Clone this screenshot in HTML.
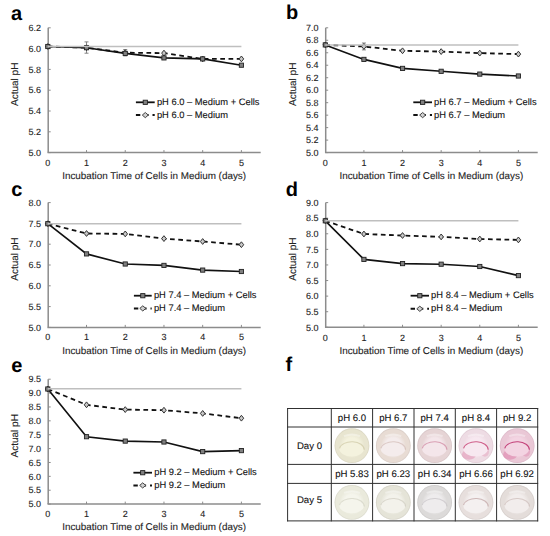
<!DOCTYPE html>
<html><head><meta charset="utf-8"><style>
html,body{margin:0;padding:0;background:#fff;width:550px;height:536px;overflow:hidden}
svg{display:block;text-rendering:geometricPrecision}
</style></head><body>
<svg width="550" height="536" viewBox="0 0 550 536" font-family='"Liberation Sans", sans-serif'><defs><filter id="soft" x="-10%" y="-10%" width="120%" height="120%"><feGaussianBlur stdDeviation="0.6"/></filter><radialGradient id="g0" cx="50%" cy="50%" r="50%"><stop offset="0%" stop-color="#f4f2de"/><stop offset="45%" stop-color="#f4f2de"/><stop offset="72%" stop-color="#e8e5d0"/><stop offset="92%" stop-color="#e8e5d0"/><stop offset="100%" stop-color="#d8d4c0"/></radialGradient><radialGradient id="g10" cx="50%" cy="50%" r="50%"><stop offset="0%" stop-color="#f5f5ec"/><stop offset="45%" stop-color="#f5f5ec"/><stop offset="72%" stop-color="#eaeadc"/><stop offset="92%" stop-color="#eaeadc"/><stop offset="100%" stop-color="#d8d8ca"/></radialGradient><radialGradient id="g1" cx="50%" cy="50%" r="50%"><stop offset="0%" stop-color="#f4ecec"/><stop offset="45%" stop-color="#f4ecec"/><stop offset="72%" stop-color="#e8dcd4"/><stop offset="92%" stop-color="#e8dcd4"/><stop offset="100%" stop-color="#d6cac4"/></radialGradient><radialGradient id="g11" cx="50%" cy="50%" r="50%"><stop offset="0%" stop-color="#f3f2eb"/><stop offset="45%" stop-color="#f3f2eb"/><stop offset="72%" stop-color="#e5e4d8"/><stop offset="92%" stop-color="#e5e4d8"/><stop offset="100%" stop-color="#d2d0c4"/></radialGradient><radialGradient id="g2" cx="50%" cy="50%" r="50%"><stop offset="0%" stop-color="#f4e6ea"/><stop offset="45%" stop-color="#f4e6ea"/><stop offset="72%" stop-color="#e6d4d5"/><stop offset="92%" stop-color="#e6d4d5"/><stop offset="100%" stop-color="#d4c2c4"/></radialGradient><radialGradient id="g12" cx="50%" cy="50%" r="50%"><stop offset="0%" stop-color="#eeeced"/><stop offset="45%" stop-color="#eeeced"/><stop offset="72%" stop-color="#dcdad9"/><stop offset="92%" stop-color="#dcdad9"/><stop offset="100%" stop-color="#cac8c7"/></radialGradient><radialGradient id="g3" cx="50%" cy="50%" r="50%"><stop offset="0%" stop-color="#f7e8f0"/><stop offset="45%" stop-color="#f7e8f0"/><stop offset="72%" stop-color="#eedce4"/><stop offset="92%" stop-color="#eedce4"/><stop offset="100%" stop-color="#dec8d2"/></radialGradient><radialGradient id="g13" cx="50%" cy="50%" r="50%"><stop offset="0%" stop-color="#f4f0f0"/><stop offset="45%" stop-color="#f4f0f0"/><stop offset="72%" stop-color="#e7dfdd"/><stop offset="92%" stop-color="#e7dfdd"/><stop offset="100%" stop-color="#d4ccca"/></radialGradient><radialGradient id="g4" cx="50%" cy="50%" r="50%"><stop offset="0%" stop-color="#f3d4e2"/><stop offset="45%" stop-color="#f3d4e2"/><stop offset="72%" stop-color="#eac8d6"/><stop offset="92%" stop-color="#eac8d6"/><stop offset="100%" stop-color="#dab6c6"/></radialGradient><radialGradient id="g14" cx="50%" cy="50%" r="50%"><stop offset="0%" stop-color="#f2edec"/><stop offset="45%" stop-color="#f2edec"/><stop offset="72%" stop-color="#e4ddda"/><stop offset="92%" stop-color="#e4ddda"/><stop offset="100%" stop-color="#d1c9c6"/></radialGradient></defs><text x="11.00" y="19.50" font-size="20" text-anchor="start" font-weight="bold" fill="#000" >a</text>
<line x1="48.20" y1="27.80" x2="48.20" y2="152.60" stroke="#8c8c8c" stroke-width="1.5"/>
<line x1="47.45" y1="152.60" x2="260.70" y2="152.60" stroke="#8c8c8c" stroke-width="1.5"/>
<line x1="48.20" y1="152.60" x2="50.70" y2="152.60" stroke="#8c8c8c" stroke-width="1"/>
<text x="40.90" y="155.80" font-size="9" text-anchor="end" font-weight="normal" fill="#222" stroke="#222" stroke-width="0.1" >5.0</text>
<line x1="48.20" y1="131.80" x2="50.70" y2="131.80" stroke="#8c8c8c" stroke-width="1"/>
<text x="40.90" y="135.00" font-size="9" text-anchor="end" font-weight="normal" fill="#222" stroke="#222" stroke-width="0.1" >5.2</text>
<line x1="48.20" y1="111.00" x2="50.70" y2="111.00" stroke="#8c8c8c" stroke-width="1"/>
<text x="40.90" y="114.20" font-size="9" text-anchor="end" font-weight="normal" fill="#222" stroke="#222" stroke-width="0.1" >5.4</text>
<line x1="48.20" y1="90.20" x2="50.70" y2="90.20" stroke="#8c8c8c" stroke-width="1"/>
<text x="40.90" y="93.40" font-size="9" text-anchor="end" font-weight="normal" fill="#222" stroke="#222" stroke-width="0.1" >5.6</text>
<line x1="48.20" y1="69.40" x2="50.70" y2="69.40" stroke="#8c8c8c" stroke-width="1"/>
<text x="40.90" y="72.60" font-size="9" text-anchor="end" font-weight="normal" fill="#222" stroke="#222" stroke-width="0.1" >5.8</text>
<line x1="48.20" y1="48.60" x2="50.70" y2="48.60" stroke="#8c8c8c" stroke-width="1"/>
<text x="40.90" y="51.80" font-size="9" text-anchor="end" font-weight="normal" fill="#222" stroke="#222" stroke-width="0.1" >6.0</text>
<line x1="48.20" y1="27.80" x2="50.70" y2="27.80" stroke="#8c8c8c" stroke-width="1"/>
<text x="40.90" y="31.00" font-size="9" text-anchor="end" font-weight="normal" fill="#222" stroke="#222" stroke-width="0.1" >6.2</text>
<text x="47.80" y="166.10" font-size="9" text-anchor="middle" font-weight="normal" fill="#222" stroke="#222" stroke-width="0.1" >0</text>
<line x1="86.52" y1="152.60" x2="86.52" y2="150.10" stroke="#8c8c8c" stroke-width="1"/>
<text x="86.52" y="166.10" font-size="9" text-anchor="middle" font-weight="normal" fill="#222" stroke="#222" stroke-width="0.1" >1</text>
<line x1="125.24" y1="152.60" x2="125.24" y2="150.10" stroke="#8c8c8c" stroke-width="1"/>
<text x="125.24" y="166.10" font-size="9" text-anchor="middle" font-weight="normal" fill="#222" stroke="#222" stroke-width="0.1" >2</text>
<line x1="163.96" y1="152.60" x2="163.96" y2="150.10" stroke="#8c8c8c" stroke-width="1"/>
<text x="163.96" y="166.10" font-size="9" text-anchor="middle" font-weight="normal" fill="#222" stroke="#222" stroke-width="0.1" >3</text>
<line x1="202.68" y1="152.60" x2="202.68" y2="150.10" stroke="#8c8c8c" stroke-width="1"/>
<text x="202.68" y="166.10" font-size="9" text-anchor="middle" font-weight="normal" fill="#222" stroke="#222" stroke-width="0.1" >4</text>
<line x1="241.40" y1="152.60" x2="241.40" y2="150.10" stroke="#8c8c8c" stroke-width="1"/>
<text x="241.40" y="166.10" font-size="9" text-anchor="middle" font-weight="normal" fill="#222" stroke="#222" stroke-width="0.1" >5</text>
<text x="62.20" y="179.40" font-size="9.9" text-anchor="start" font-weight="normal" fill="#222" stroke="#222" stroke-width="0.1" >Incubation Time of Cells in Medium (days)</text>
<text x="18.10" y="84.30" font-size="10" text-anchor="middle" font-weight="normal" fill="#222" stroke="#222" stroke-width="0.1" transform="rotate(-90 18.10 84.30)">Actual pH</text>
<path d="M84.52 41.90H88.52M86.52 41.90V53.20M84.52 53.20H88.52" stroke="#777" stroke-width="0.9" fill="none"/>
<path d="M123.24 49.50H127.24M125.24 49.50V55.90M123.24 55.90H127.24" stroke="#777" stroke-width="0.9" fill="none"/>
<polyline points="47.80,46.50 86.52,47.70 125.24,52.70 163.96,53.10 202.68,58.90 241.40,58.90" fill="none" stroke="#111" stroke-width="1.8" stroke-dasharray="4.7 3.55"/>
<polyline points="47.80,46.50 86.52,47.70 125.24,53.40 163.96,57.90 202.68,58.90 241.40,65.20" fill="none" stroke="#111" stroke-width="1.65"/>
<path d="M47.80 43.60L50.10 46.50L47.80 49.40L45.50 46.50Z" fill="#c8c8c8" stroke="#333" stroke-width="1"/>
<path d="M86.52 44.80L88.82 47.70L86.52 50.60L84.22 47.70Z" fill="#c8c8c8" stroke="#333" stroke-width="1"/>
<path d="M125.24 49.80L127.54 52.70L125.24 55.60L122.94 52.70Z" fill="#c8c8c8" stroke="#333" stroke-width="1"/>
<path d="M163.96 50.20L166.26 53.10L163.96 56.00L161.66 53.10Z" fill="#c8c8c8" stroke="#333" stroke-width="1"/>
<path d="M202.68 56.00L204.98 58.90L202.68 61.80L200.38 58.90Z" fill="#c8c8c8" stroke="#333" stroke-width="1"/>
<path d="M241.40 56.00L243.70 58.90L241.40 61.80L239.10 58.90Z" fill="#c8c8c8" stroke="#333" stroke-width="1"/>
<rect x="45.70" y="44.40" width="4.2" height="4.2" fill="#808080" stroke="#222" stroke-width="0.9"/>
<rect x="84.42" y="45.60" width="4.2" height="4.2" fill="#808080" stroke="#222" stroke-width="0.9"/>
<rect x="123.14" y="51.30" width="4.2" height="4.2" fill="#808080" stroke="#222" stroke-width="0.9"/>
<rect x="161.86" y="55.80" width="4.2" height="4.2" fill="#808080" stroke="#222" stroke-width="0.9"/>
<rect x="200.58" y="56.80" width="4.2" height="4.2" fill="#808080" stroke="#222" stroke-width="0.9"/>
<rect x="239.30" y="63.10" width="4.2" height="4.2" fill="#808080" stroke="#222" stroke-width="0.9"/>
<line x1="47.80" y1="46.50" x2="241.40" y2="46.50" stroke="#bfbfbf" stroke-width="1.5"/>
<line x1="135.90" y1="102.30" x2="154.70" y2="102.30" stroke="#111" stroke-width="1.8"/>
<rect x="143.20" y="100.20" width="4.2" height="4.2" fill="#808080" stroke="#222" stroke-width="0.9"/>
<line x1="135.90" y1="115.10" x2="154.70" y2="115.10" stroke="#111" stroke-width="2" stroke-dasharray="4.4 3.9"/>
<path d="M145.30 112.50L148.30 115.10L145.30 117.70L142.30 115.10Z" fill="#d0d0d0" stroke="#444" stroke-width="1"/>
<text x="156.90" y="104.90" font-size="9.35" text-anchor="start" font-weight="normal" fill="#111" stroke="#111" stroke-width="0.1" >pH 6.0 – Medium + Cells</text>
<text x="156.90" y="117.70" font-size="9.35" text-anchor="start" font-weight="normal" fill="#111" stroke="#111" stroke-width="0.1" >pH 6.0 – Medium</text>
<text x="286.00" y="18.90" font-size="20" text-anchor="start" font-weight="bold" fill="#000" >b</text>
<line x1="325.70" y1="27.80" x2="325.70" y2="152.60" stroke="#8c8c8c" stroke-width="1.5"/>
<line x1="324.95" y1="152.60" x2="537.70" y2="152.60" stroke="#8c8c8c" stroke-width="1.5"/>
<line x1="325.70" y1="152.60" x2="328.20" y2="152.60" stroke="#8c8c8c" stroke-width="1"/>
<text x="318.40" y="155.80" font-size="9" text-anchor="end" font-weight="normal" fill="#222" stroke="#222" stroke-width="0.1" >5.0</text>
<line x1="325.70" y1="140.12" x2="328.20" y2="140.12" stroke="#8c8c8c" stroke-width="1"/>
<text x="318.40" y="143.32" font-size="9" text-anchor="end" font-weight="normal" fill="#222" stroke="#222" stroke-width="0.1" >5.2</text>
<line x1="325.70" y1="127.64" x2="328.20" y2="127.64" stroke="#8c8c8c" stroke-width="1"/>
<text x="318.40" y="130.84" font-size="9" text-anchor="end" font-weight="normal" fill="#222" stroke="#222" stroke-width="0.1" >5.4</text>
<line x1="325.70" y1="115.16" x2="328.20" y2="115.16" stroke="#8c8c8c" stroke-width="1"/>
<text x="318.40" y="118.36" font-size="9" text-anchor="end" font-weight="normal" fill="#222" stroke="#222" stroke-width="0.1" >5.6</text>
<line x1="325.70" y1="102.68" x2="328.20" y2="102.68" stroke="#8c8c8c" stroke-width="1"/>
<text x="318.40" y="105.88" font-size="9" text-anchor="end" font-weight="normal" fill="#222" stroke="#222" stroke-width="0.1" >5.8</text>
<line x1="325.70" y1="90.20" x2="328.20" y2="90.20" stroke="#8c8c8c" stroke-width="1"/>
<text x="318.40" y="93.40" font-size="9" text-anchor="end" font-weight="normal" fill="#222" stroke="#222" stroke-width="0.1" >6.0</text>
<line x1="325.70" y1="77.72" x2="328.20" y2="77.72" stroke="#8c8c8c" stroke-width="1"/>
<text x="318.40" y="80.92" font-size="9" text-anchor="end" font-weight="normal" fill="#222" stroke="#222" stroke-width="0.1" >6.2</text>
<line x1="325.70" y1="65.24" x2="328.20" y2="65.24" stroke="#8c8c8c" stroke-width="1"/>
<text x="318.40" y="68.44" font-size="9" text-anchor="end" font-weight="normal" fill="#222" stroke="#222" stroke-width="0.1" >6.4</text>
<line x1="325.70" y1="52.76" x2="328.20" y2="52.76" stroke="#8c8c8c" stroke-width="1"/>
<text x="318.40" y="55.96" font-size="9" text-anchor="end" font-weight="normal" fill="#222" stroke="#222" stroke-width="0.1" >6.6</text>
<line x1="325.70" y1="40.28" x2="328.20" y2="40.28" stroke="#8c8c8c" stroke-width="1"/>
<text x="318.40" y="43.48" font-size="9" text-anchor="end" font-weight="normal" fill="#222" stroke="#222" stroke-width="0.1" >6.8</text>
<line x1="325.70" y1="27.80" x2="328.20" y2="27.80" stroke="#8c8c8c" stroke-width="1"/>
<text x="318.40" y="31.00" font-size="9" text-anchor="end" font-weight="normal" fill="#222" stroke="#222" stroke-width="0.1" >7.0</text>
<text x="325.30" y="166.10" font-size="9" text-anchor="middle" font-weight="normal" fill="#222" stroke="#222" stroke-width="0.1" >0</text>
<line x1="363.92" y1="152.60" x2="363.92" y2="150.10" stroke="#8c8c8c" stroke-width="1"/>
<text x="363.92" y="166.10" font-size="9" text-anchor="middle" font-weight="normal" fill="#222" stroke="#222" stroke-width="0.1" >1</text>
<line x1="402.54" y1="152.60" x2="402.54" y2="150.10" stroke="#8c8c8c" stroke-width="1"/>
<text x="402.54" y="166.10" font-size="9" text-anchor="middle" font-weight="normal" fill="#222" stroke="#222" stroke-width="0.1" >2</text>
<line x1="441.16" y1="152.60" x2="441.16" y2="150.10" stroke="#8c8c8c" stroke-width="1"/>
<text x="441.16" y="166.10" font-size="9" text-anchor="middle" font-weight="normal" fill="#222" stroke="#222" stroke-width="0.1" >3</text>
<line x1="479.78" y1="152.60" x2="479.78" y2="150.10" stroke="#8c8c8c" stroke-width="1"/>
<text x="479.78" y="166.10" font-size="9" text-anchor="middle" font-weight="normal" fill="#222" stroke="#222" stroke-width="0.1" >4</text>
<line x1="518.40" y1="152.60" x2="518.40" y2="150.10" stroke="#8c8c8c" stroke-width="1"/>
<text x="518.40" y="166.10" font-size="9" text-anchor="middle" font-weight="normal" fill="#222" stroke="#222" stroke-width="0.1" >5</text>
<text x="339.40" y="179.40" font-size="9.9" text-anchor="start" font-weight="normal" fill="#222" stroke="#222" stroke-width="0.1" >Incubation Time of Cells in Medium (days)</text>
<text x="295.60" y="84.30" font-size="10" text-anchor="middle" font-weight="normal" fill="#222" stroke="#222" stroke-width="0.1" transform="rotate(-90 295.60 84.30)">Actual pH</text>
<path d="M361.92 43.00H365.92M363.92 43.00V49.90M361.92 49.90H365.92" stroke="#777" stroke-width="0.9" fill="none"/>
<polyline points="325.30,44.90 363.92,46.50 402.54,50.80 441.16,51.60 479.78,53.10 518.40,54.10" fill="none" stroke="#111" stroke-width="1.8" stroke-dasharray="4.7 3.55"/>
<polyline points="325.30,44.90 363.92,59.40 402.54,68.40 441.16,71.30 479.78,74.10 518.40,76.00" fill="none" stroke="#111" stroke-width="1.65"/>
<path d="M325.30 42.00L327.60 44.90L325.30 47.80L323.00 44.90Z" fill="#c8c8c8" stroke="#333" stroke-width="1"/>
<path d="M363.92 43.60L366.22 46.50L363.92 49.40L361.62 46.50Z" fill="#c8c8c8" stroke="#333" stroke-width="1"/>
<path d="M402.54 47.90L404.84 50.80L402.54 53.70L400.24 50.80Z" fill="#c8c8c8" stroke="#333" stroke-width="1"/>
<path d="M441.16 48.70L443.46 51.60L441.16 54.50L438.86 51.60Z" fill="#c8c8c8" stroke="#333" stroke-width="1"/>
<path d="M479.78 50.20L482.08 53.10L479.78 56.00L477.48 53.10Z" fill="#c8c8c8" stroke="#333" stroke-width="1"/>
<path d="M518.40 51.20L520.70 54.10L518.40 57.00L516.10 54.10Z" fill="#c8c8c8" stroke="#333" stroke-width="1"/>
<rect x="323.20" y="42.80" width="4.2" height="4.2" fill="#808080" stroke="#222" stroke-width="0.9"/>
<rect x="361.82" y="57.30" width="4.2" height="4.2" fill="#808080" stroke="#222" stroke-width="0.9"/>
<rect x="400.44" y="66.30" width="4.2" height="4.2" fill="#808080" stroke="#222" stroke-width="0.9"/>
<rect x="439.06" y="69.20" width="4.2" height="4.2" fill="#808080" stroke="#222" stroke-width="0.9"/>
<rect x="477.68" y="72.00" width="4.2" height="4.2" fill="#808080" stroke="#222" stroke-width="0.9"/>
<rect x="516.30" y="73.90" width="4.2" height="4.2" fill="#808080" stroke="#222" stroke-width="0.9"/>
<line x1="325.30" y1="44.90" x2="518.40" y2="44.90" stroke="#bfbfbf" stroke-width="1.5"/>
<line x1="413.30" y1="102.30" x2="432.00" y2="102.30" stroke="#111" stroke-width="1.8"/>
<rect x="420.55" y="100.20" width="4.2" height="4.2" fill="#808080" stroke="#222" stroke-width="0.9"/>
<line x1="413.30" y1="115.10" x2="432.00" y2="115.10" stroke="#111" stroke-width="2" stroke-dasharray="4.4 3.9"/>
<path d="M422.65 112.50L425.65 115.10L422.65 117.70L419.65 115.10Z" fill="#d0d0d0" stroke="#444" stroke-width="1"/>
<text x="434.00" y="104.90" font-size="9.35" text-anchor="start" font-weight="normal" fill="#111" stroke="#111" stroke-width="0.1" >pH 6.7 – Medium + Cells</text>
<text x="434.00" y="117.70" font-size="9.35" text-anchor="start" font-weight="normal" fill="#111" stroke="#111" stroke-width="0.1" >pH 6.7 – Medium</text>
<text x="11.20" y="196.00" font-size="20" text-anchor="start" font-weight="bold" fill="#000" >c</text>
<line x1="48.20" y1="202.60" x2="48.20" y2="327.40" stroke="#8c8c8c" stroke-width="1.5"/>
<line x1="47.45" y1="327.40" x2="260.70" y2="327.40" stroke="#8c8c8c" stroke-width="1.5"/>
<line x1="48.20" y1="327.40" x2="50.70" y2="327.40" stroke="#8c8c8c" stroke-width="1"/>
<text x="40.90" y="330.60" font-size="9" text-anchor="end" font-weight="normal" fill="#222" stroke="#222" stroke-width="0.1" >5.0</text>
<line x1="48.20" y1="306.60" x2="50.70" y2="306.60" stroke="#8c8c8c" stroke-width="1"/>
<text x="40.90" y="309.80" font-size="9" text-anchor="end" font-weight="normal" fill="#222" stroke="#222" stroke-width="0.1" >5.5</text>
<line x1="48.20" y1="285.80" x2="50.70" y2="285.80" stroke="#8c8c8c" stroke-width="1"/>
<text x="40.90" y="289.00" font-size="9" text-anchor="end" font-weight="normal" fill="#222" stroke="#222" stroke-width="0.1" >6.0</text>
<line x1="48.20" y1="265.00" x2="50.70" y2="265.00" stroke="#8c8c8c" stroke-width="1"/>
<text x="40.90" y="268.20" font-size="9" text-anchor="end" font-weight="normal" fill="#222" stroke="#222" stroke-width="0.1" >6.5</text>
<line x1="48.20" y1="244.20" x2="50.70" y2="244.20" stroke="#8c8c8c" stroke-width="1"/>
<text x="40.90" y="247.40" font-size="9" text-anchor="end" font-weight="normal" fill="#222" stroke="#222" stroke-width="0.1" >7.0</text>
<line x1="48.20" y1="223.40" x2="50.70" y2="223.40" stroke="#8c8c8c" stroke-width="1"/>
<text x="40.90" y="226.60" font-size="9" text-anchor="end" font-weight="normal" fill="#222" stroke="#222" stroke-width="0.1" >7.5</text>
<line x1="48.20" y1="202.60" x2="50.70" y2="202.60" stroke="#8c8c8c" stroke-width="1"/>
<text x="40.90" y="205.80" font-size="9" text-anchor="end" font-weight="normal" fill="#222" stroke="#222" stroke-width="0.1" >8.0</text>
<text x="47.80" y="340.20" font-size="9" text-anchor="middle" font-weight="normal" fill="#222" stroke="#222" stroke-width="0.1" >0</text>
<line x1="86.52" y1="327.40" x2="86.52" y2="324.90" stroke="#8c8c8c" stroke-width="1"/>
<text x="86.52" y="340.20" font-size="9" text-anchor="middle" font-weight="normal" fill="#222" stroke="#222" stroke-width="0.1" >1</text>
<line x1="125.24" y1="327.40" x2="125.24" y2="324.90" stroke="#8c8c8c" stroke-width="1"/>
<text x="125.24" y="340.20" font-size="9" text-anchor="middle" font-weight="normal" fill="#222" stroke="#222" stroke-width="0.1" >2</text>
<line x1="163.96" y1="327.40" x2="163.96" y2="324.90" stroke="#8c8c8c" stroke-width="1"/>
<text x="163.96" y="340.20" font-size="9" text-anchor="middle" font-weight="normal" fill="#222" stroke="#222" stroke-width="0.1" >3</text>
<line x1="202.68" y1="327.40" x2="202.68" y2="324.90" stroke="#8c8c8c" stroke-width="1"/>
<text x="202.68" y="340.20" font-size="9" text-anchor="middle" font-weight="normal" fill="#222" stroke="#222" stroke-width="0.1" >4</text>
<line x1="241.40" y1="327.40" x2="241.40" y2="324.90" stroke="#8c8c8c" stroke-width="1"/>
<text x="241.40" y="340.20" font-size="9" text-anchor="middle" font-weight="normal" fill="#222" stroke="#222" stroke-width="0.1" >5</text>
<text x="62.20" y="353.50" font-size="9.9" text-anchor="start" font-weight="normal" fill="#222" stroke="#222" stroke-width="0.1" >Incubation Time of Cells in Medium (days)</text>
<text x="18.10" y="259.10" font-size="10" text-anchor="middle" font-weight="normal" fill="#222" stroke="#222" stroke-width="0.1" transform="rotate(-90 18.10 259.10)">Actual pH</text>
<polyline points="47.80,223.70 86.52,233.50 125.24,233.90 163.96,238.60 202.68,241.50 241.40,244.70" fill="none" stroke="#111" stroke-width="1.8" stroke-dasharray="4.7 3.55"/>
<polyline points="47.80,223.70 86.52,253.90 125.24,264.00 163.96,265.40 202.68,270.10 241.40,271.50" fill="none" stroke="#111" stroke-width="1.65"/>
<path d="M47.80 220.80L50.10 223.70L47.80 226.60L45.50 223.70Z" fill="#c8c8c8" stroke="#333" stroke-width="1"/>
<path d="M86.52 230.60L88.82 233.50L86.52 236.40L84.22 233.50Z" fill="#c8c8c8" stroke="#333" stroke-width="1"/>
<path d="M125.24 231.00L127.54 233.90L125.24 236.80L122.94 233.90Z" fill="#c8c8c8" stroke="#333" stroke-width="1"/>
<path d="M163.96 235.70L166.26 238.60L163.96 241.50L161.66 238.60Z" fill="#c8c8c8" stroke="#333" stroke-width="1"/>
<path d="M202.68 238.60L204.98 241.50L202.68 244.40L200.38 241.50Z" fill="#c8c8c8" stroke="#333" stroke-width="1"/>
<path d="M241.40 241.80L243.70 244.70L241.40 247.60L239.10 244.70Z" fill="#c8c8c8" stroke="#333" stroke-width="1"/>
<rect x="45.70" y="221.60" width="4.2" height="4.2" fill="#808080" stroke="#222" stroke-width="0.9"/>
<rect x="84.42" y="251.80" width="4.2" height="4.2" fill="#808080" stroke="#222" stroke-width="0.9"/>
<rect x="123.14" y="261.90" width="4.2" height="4.2" fill="#808080" stroke="#222" stroke-width="0.9"/>
<rect x="161.86" y="263.30" width="4.2" height="4.2" fill="#808080" stroke="#222" stroke-width="0.9"/>
<rect x="200.58" y="268.00" width="4.2" height="4.2" fill="#808080" stroke="#222" stroke-width="0.9"/>
<rect x="239.30" y="269.40" width="4.2" height="4.2" fill="#808080" stroke="#222" stroke-width="0.9"/>
<line x1="47.80" y1="223.70" x2="241.40" y2="223.70" stroke="#bfbfbf" stroke-width="1.5"/>
<line x1="133.90" y1="295.70" x2="151.70" y2="295.70" stroke="#111" stroke-width="1.8"/>
<rect x="140.70" y="293.60" width="4.2" height="4.2" fill="#808080" stroke="#222" stroke-width="0.9"/>
<line x1="133.90" y1="308.40" x2="151.70" y2="308.40" stroke="#111" stroke-width="2" stroke-dasharray="4.4 3.9"/>
<path d="M142.80 305.80L145.80 308.40L142.80 311.00L139.80 308.40Z" fill="#d0d0d0" stroke="#444" stroke-width="1"/>
<text x="153.90" y="298.30" font-size="9.35" text-anchor="start" font-weight="normal" fill="#111" stroke="#111" stroke-width="0.1" >pH 7.4 – Medium + Cells</text>
<text x="153.90" y="311.00" font-size="9.35" text-anchor="start" font-weight="normal" fill="#111" stroke="#111" stroke-width="0.1" >pH 7.4 – Medium</text>
<text x="285.80" y="195.80" font-size="20" text-anchor="start" font-weight="bold" fill="#000" >d</text>
<line x1="325.70" y1="202.60" x2="325.70" y2="327.30" stroke="#8c8c8c" stroke-width="1.5"/>
<line x1="324.95" y1="327.30" x2="537.70" y2="327.30" stroke="#8c8c8c" stroke-width="1.5"/>
<line x1="325.70" y1="327.30" x2="328.20" y2="327.30" stroke="#8c8c8c" stroke-width="1"/>
<text x="318.40" y="330.50" font-size="9" text-anchor="end" font-weight="normal" fill="#222" stroke="#222" stroke-width="0.1" >5.0</text>
<line x1="325.70" y1="311.71" x2="328.20" y2="311.71" stroke="#8c8c8c" stroke-width="1"/>
<text x="318.40" y="314.91" font-size="9" text-anchor="end" font-weight="normal" fill="#222" stroke="#222" stroke-width="0.1" >5.5</text>
<line x1="325.70" y1="296.12" x2="328.20" y2="296.12" stroke="#8c8c8c" stroke-width="1"/>
<text x="318.40" y="299.32" font-size="9" text-anchor="end" font-weight="normal" fill="#222" stroke="#222" stroke-width="0.1" >6.0</text>
<line x1="325.70" y1="280.54" x2="328.20" y2="280.54" stroke="#8c8c8c" stroke-width="1"/>
<text x="318.40" y="283.74" font-size="9" text-anchor="end" font-weight="normal" fill="#222" stroke="#222" stroke-width="0.1" >6.5</text>
<line x1="325.70" y1="264.95" x2="328.20" y2="264.95" stroke="#8c8c8c" stroke-width="1"/>
<text x="318.40" y="268.15" font-size="9" text-anchor="end" font-weight="normal" fill="#222" stroke="#222" stroke-width="0.1" >7.0</text>
<line x1="325.70" y1="249.36" x2="328.20" y2="249.36" stroke="#8c8c8c" stroke-width="1"/>
<text x="318.40" y="252.56" font-size="9" text-anchor="end" font-weight="normal" fill="#222" stroke="#222" stroke-width="0.1" >7.5</text>
<line x1="325.70" y1="233.78" x2="328.20" y2="233.78" stroke="#8c8c8c" stroke-width="1"/>
<text x="318.40" y="236.97" font-size="9" text-anchor="end" font-weight="normal" fill="#222" stroke="#222" stroke-width="0.1" >8.0</text>
<line x1="325.70" y1="218.19" x2="328.20" y2="218.19" stroke="#8c8c8c" stroke-width="1"/>
<text x="318.40" y="221.39" font-size="9" text-anchor="end" font-weight="normal" fill="#222" stroke="#222" stroke-width="0.1" >8.5</text>
<line x1="325.70" y1="202.60" x2="328.20" y2="202.60" stroke="#8c8c8c" stroke-width="1"/>
<text x="318.40" y="205.80" font-size="9" text-anchor="end" font-weight="normal" fill="#222" stroke="#222" stroke-width="0.1" >9.0</text>
<text x="325.30" y="340.50" font-size="9" text-anchor="middle" font-weight="normal" fill="#222" stroke="#222" stroke-width="0.1" >0</text>
<line x1="363.92" y1="327.30" x2="363.92" y2="324.80" stroke="#8c8c8c" stroke-width="1"/>
<text x="363.92" y="340.50" font-size="9" text-anchor="middle" font-weight="normal" fill="#222" stroke="#222" stroke-width="0.1" >1</text>
<line x1="402.54" y1="327.30" x2="402.54" y2="324.80" stroke="#8c8c8c" stroke-width="1"/>
<text x="402.54" y="340.50" font-size="9" text-anchor="middle" font-weight="normal" fill="#222" stroke="#222" stroke-width="0.1" >2</text>
<line x1="441.16" y1="327.30" x2="441.16" y2="324.80" stroke="#8c8c8c" stroke-width="1"/>
<text x="441.16" y="340.50" font-size="9" text-anchor="middle" font-weight="normal" fill="#222" stroke="#222" stroke-width="0.1" >3</text>
<line x1="479.78" y1="327.30" x2="479.78" y2="324.80" stroke="#8c8c8c" stroke-width="1"/>
<text x="479.78" y="340.50" font-size="9" text-anchor="middle" font-weight="normal" fill="#222" stroke="#222" stroke-width="0.1" >4</text>
<line x1="518.40" y1="327.30" x2="518.40" y2="324.80" stroke="#8c8c8c" stroke-width="1"/>
<text x="518.40" y="340.50" font-size="9" text-anchor="middle" font-weight="normal" fill="#222" stroke="#222" stroke-width="0.1" >5</text>
<text x="339.40" y="353.80" font-size="9.9" text-anchor="start" font-weight="normal" fill="#222" stroke="#222" stroke-width="0.1" >Incubation Time of Cells in Medium (days)</text>
<text x="295.60" y="259.10" font-size="10" text-anchor="middle" font-weight="normal" fill="#222" stroke="#222" stroke-width="0.1" transform="rotate(-90 295.60 259.10)">Actual pH</text>
<polyline points="325.30,220.80 363.92,234.00 402.54,235.50 441.16,236.90 479.78,239.00 518.40,239.90" fill="none" stroke="#111" stroke-width="1.8" stroke-dasharray="4.7 3.55"/>
<polyline points="325.30,220.80 363.92,259.40 402.54,263.60 441.16,264.20 479.78,266.50 518.40,275.60" fill="none" stroke="#111" stroke-width="1.65"/>
<path d="M325.30 217.90L327.60 220.80L325.30 223.70L323.00 220.80Z" fill="#c8c8c8" stroke="#333" stroke-width="1"/>
<path d="M363.92 231.10L366.22 234.00L363.92 236.90L361.62 234.00Z" fill="#c8c8c8" stroke="#333" stroke-width="1"/>
<path d="M402.54 232.60L404.84 235.50L402.54 238.40L400.24 235.50Z" fill="#c8c8c8" stroke="#333" stroke-width="1"/>
<path d="M441.16 234.00L443.46 236.90L441.16 239.80L438.86 236.90Z" fill="#c8c8c8" stroke="#333" stroke-width="1"/>
<path d="M479.78 236.10L482.08 239.00L479.78 241.90L477.48 239.00Z" fill="#c8c8c8" stroke="#333" stroke-width="1"/>
<path d="M518.40 237.00L520.70 239.90L518.40 242.80L516.10 239.90Z" fill="#c8c8c8" stroke="#333" stroke-width="1"/>
<rect x="323.20" y="218.70" width="4.2" height="4.2" fill="#808080" stroke="#222" stroke-width="0.9"/>
<rect x="361.82" y="257.30" width="4.2" height="4.2" fill="#808080" stroke="#222" stroke-width="0.9"/>
<rect x="400.44" y="261.50" width="4.2" height="4.2" fill="#808080" stroke="#222" stroke-width="0.9"/>
<rect x="439.06" y="262.10" width="4.2" height="4.2" fill="#808080" stroke="#222" stroke-width="0.9"/>
<rect x="477.68" y="264.40" width="4.2" height="4.2" fill="#808080" stroke="#222" stroke-width="0.9"/>
<rect x="516.30" y="273.50" width="4.2" height="4.2" fill="#808080" stroke="#222" stroke-width="0.9"/>
<line x1="325.30" y1="220.80" x2="518.40" y2="220.80" stroke="#bfbfbf" stroke-width="1.5"/>
<line x1="410.60" y1="295.70" x2="429.00" y2="295.70" stroke="#111" stroke-width="1.8"/>
<rect x="417.70" y="293.60" width="4.2" height="4.2" fill="#808080" stroke="#222" stroke-width="0.9"/>
<line x1="410.60" y1="308.80" x2="429.00" y2="308.80" stroke="#111" stroke-width="2" stroke-dasharray="4.4 3.9"/>
<path d="M419.80 306.20L422.80 308.80L419.80 311.40L416.80 308.80Z" fill="#d0d0d0" stroke="#444" stroke-width="1"/>
<text x="431.10" y="298.30" font-size="9.35" text-anchor="start" font-weight="normal" fill="#111" stroke="#111" stroke-width="0.1" >pH 8.4 – Medium + Cells</text>
<text x="431.10" y="311.40" font-size="9.35" text-anchor="start" font-weight="normal" fill="#111" stroke="#111" stroke-width="0.1" >pH 8.4 – Medium</text>
<text x="11.20" y="371.60" font-size="20" text-anchor="start" font-weight="bold" fill="#000" >e</text>
<line x1="48.20" y1="379.20" x2="48.20" y2="504.10" stroke="#8c8c8c" stroke-width="1.5"/>
<line x1="47.45" y1="504.10" x2="260.70" y2="504.10" stroke="#8c8c8c" stroke-width="1.5"/>
<line x1="48.20" y1="504.10" x2="50.70" y2="504.10" stroke="#8c8c8c" stroke-width="1"/>
<text x="40.90" y="507.30" font-size="9" text-anchor="end" font-weight="normal" fill="#222" stroke="#222" stroke-width="0.1" >5.0</text>
<line x1="48.20" y1="490.22" x2="50.70" y2="490.22" stroke="#8c8c8c" stroke-width="1"/>
<text x="40.90" y="493.42" font-size="9" text-anchor="end" font-weight="normal" fill="#222" stroke="#222" stroke-width="0.1" >5.5</text>
<line x1="48.20" y1="476.34" x2="50.70" y2="476.34" stroke="#8c8c8c" stroke-width="1"/>
<text x="40.90" y="479.54" font-size="9" text-anchor="end" font-weight="normal" fill="#222" stroke="#222" stroke-width="0.1" >6.0</text>
<line x1="48.20" y1="462.47" x2="50.70" y2="462.47" stroke="#8c8c8c" stroke-width="1"/>
<text x="40.90" y="465.67" font-size="9" text-anchor="end" font-weight="normal" fill="#222" stroke="#222" stroke-width="0.1" >6.5</text>
<line x1="48.20" y1="448.59" x2="50.70" y2="448.59" stroke="#8c8c8c" stroke-width="1"/>
<text x="40.90" y="451.79" font-size="9" text-anchor="end" font-weight="normal" fill="#222" stroke="#222" stroke-width="0.1" >7.0</text>
<line x1="48.20" y1="434.71" x2="50.70" y2="434.71" stroke="#8c8c8c" stroke-width="1"/>
<text x="40.90" y="437.91" font-size="9" text-anchor="end" font-weight="normal" fill="#222" stroke="#222" stroke-width="0.1" >7.5</text>
<line x1="48.20" y1="420.83" x2="50.70" y2="420.83" stroke="#8c8c8c" stroke-width="1"/>
<text x="40.90" y="424.03" font-size="9" text-anchor="end" font-weight="normal" fill="#222" stroke="#222" stroke-width="0.1" >8.0</text>
<line x1="48.20" y1="406.96" x2="50.70" y2="406.96" stroke="#8c8c8c" stroke-width="1"/>
<text x="40.90" y="410.16" font-size="9" text-anchor="end" font-weight="normal" fill="#222" stroke="#222" stroke-width="0.1" >8.5</text>
<line x1="48.20" y1="393.08" x2="50.70" y2="393.08" stroke="#8c8c8c" stroke-width="1"/>
<text x="40.90" y="396.28" font-size="9" text-anchor="end" font-weight="normal" fill="#222" stroke="#222" stroke-width="0.1" >9.0</text>
<line x1="48.20" y1="379.20" x2="50.70" y2="379.20" stroke="#8c8c8c" stroke-width="1"/>
<text x="40.90" y="382.40" font-size="9" text-anchor="end" font-weight="normal" fill="#222" stroke="#222" stroke-width="0.1" >9.5</text>
<text x="47.80" y="516.80" font-size="9" text-anchor="middle" font-weight="normal" fill="#222" stroke="#222" stroke-width="0.1" >0</text>
<line x1="86.52" y1="504.10" x2="86.52" y2="501.60" stroke="#8c8c8c" stroke-width="1"/>
<text x="86.52" y="516.80" font-size="9" text-anchor="middle" font-weight="normal" fill="#222" stroke="#222" stroke-width="0.1" >1</text>
<line x1="125.24" y1="504.10" x2="125.24" y2="501.60" stroke="#8c8c8c" stroke-width="1"/>
<text x="125.24" y="516.80" font-size="9" text-anchor="middle" font-weight="normal" fill="#222" stroke="#222" stroke-width="0.1" >2</text>
<line x1="163.96" y1="504.10" x2="163.96" y2="501.60" stroke="#8c8c8c" stroke-width="1"/>
<text x="163.96" y="516.80" font-size="9" text-anchor="middle" font-weight="normal" fill="#222" stroke="#222" stroke-width="0.1" >3</text>
<line x1="202.68" y1="504.10" x2="202.68" y2="501.60" stroke="#8c8c8c" stroke-width="1"/>
<text x="202.68" y="516.80" font-size="9" text-anchor="middle" font-weight="normal" fill="#222" stroke="#222" stroke-width="0.1" >4</text>
<line x1="241.40" y1="504.10" x2="241.40" y2="501.60" stroke="#8c8c8c" stroke-width="1"/>
<text x="241.40" y="516.80" font-size="9" text-anchor="middle" font-weight="normal" fill="#222" stroke="#222" stroke-width="0.1" >5</text>
<text x="62.20" y="530.10" font-size="9.9" text-anchor="start" font-weight="normal" fill="#222" stroke="#222" stroke-width="0.1" >Incubation Time of Cells in Medium (days)</text>
<text x="18.10" y="435.80" font-size="10" text-anchor="middle" font-weight="normal" fill="#222" stroke="#222" stroke-width="0.1" transform="rotate(-90 18.10 435.80)">Actual pH</text>
<polyline points="47.80,389.00 86.52,404.80 125.24,409.60 163.96,410.20 202.68,413.40 241.40,418.20" fill="none" stroke="#111" stroke-width="1.8" stroke-dasharray="4.7 3.55"/>
<polyline points="47.80,389.00 86.52,436.70 125.24,441.10 163.96,442.00 202.68,451.60 241.40,450.60" fill="none" stroke="#111" stroke-width="1.65"/>
<path d="M47.80 386.10L50.10 389.00L47.80 391.90L45.50 389.00Z" fill="#c8c8c8" stroke="#333" stroke-width="1"/>
<path d="M86.52 401.90L88.82 404.80L86.52 407.70L84.22 404.80Z" fill="#c8c8c8" stroke="#333" stroke-width="1"/>
<path d="M125.24 406.70L127.54 409.60L125.24 412.50L122.94 409.60Z" fill="#c8c8c8" stroke="#333" stroke-width="1"/>
<path d="M163.96 407.30L166.26 410.20L163.96 413.10L161.66 410.20Z" fill="#c8c8c8" stroke="#333" stroke-width="1"/>
<path d="M202.68 410.50L204.98 413.40L202.68 416.30L200.38 413.40Z" fill="#c8c8c8" stroke="#333" stroke-width="1"/>
<path d="M241.40 415.30L243.70 418.20L241.40 421.10L239.10 418.20Z" fill="#c8c8c8" stroke="#333" stroke-width="1"/>
<rect x="45.70" y="386.90" width="4.2" height="4.2" fill="#808080" stroke="#222" stroke-width="0.9"/>
<rect x="84.42" y="434.60" width="4.2" height="4.2" fill="#808080" stroke="#222" stroke-width="0.9"/>
<rect x="123.14" y="439.00" width="4.2" height="4.2" fill="#808080" stroke="#222" stroke-width="0.9"/>
<rect x="161.86" y="439.90" width="4.2" height="4.2" fill="#808080" stroke="#222" stroke-width="0.9"/>
<rect x="200.58" y="449.50" width="4.2" height="4.2" fill="#808080" stroke="#222" stroke-width="0.9"/>
<rect x="239.30" y="448.50" width="4.2" height="4.2" fill="#808080" stroke="#222" stroke-width="0.9"/>
<line x1="47.80" y1="388.80" x2="241.40" y2="388.80" stroke="#bfbfbf" stroke-width="1.5"/>
<line x1="133.40" y1="472.70" x2="152.00" y2="472.70" stroke="#111" stroke-width="1.8"/>
<rect x="140.60" y="470.60" width="4.2" height="4.2" fill="#808080" stroke="#222" stroke-width="0.9"/>
<line x1="133.40" y1="485.40" x2="152.00" y2="485.40" stroke="#111" stroke-width="2" stroke-dasharray="4.4 3.9"/>
<path d="M142.70 482.80L145.70 485.40L142.70 488.00L139.70 485.40Z" fill="#d0d0d0" stroke="#444" stroke-width="1"/>
<text x="154.20" y="475.30" font-size="9.35" text-anchor="start" font-weight="normal" fill="#111" stroke="#111" stroke-width="0.1" >pH 9.2 – Medium + Cells</text>
<text x="154.20" y="488.00" font-size="9.35" text-anchor="start" font-weight="normal" fill="#111" stroke="#111" stroke-width="0.1" >pH 9.2 – Medium</text>
<text x="285.60" y="371.30" font-size="20" text-anchor="start" font-weight="bold" fill="#000" >f</text>
<line x1="287.60" y1="408.00" x2="287.60" y2="521.40" stroke="#303030" stroke-width="1"/>
<line x1="331.30" y1="408.00" x2="331.30" y2="521.40" stroke="#303030" stroke-width="1"/>
<line x1="372.60" y1="408.00" x2="372.60" y2="521.40" stroke="#303030" stroke-width="1"/>
<line x1="414.00" y1="408.00" x2="414.00" y2="521.40" stroke="#303030" stroke-width="1"/>
<line x1="455.30" y1="408.00" x2="455.30" y2="521.40" stroke="#303030" stroke-width="1"/>
<line x1="496.60" y1="408.00" x2="496.60" y2="521.40" stroke="#303030" stroke-width="1"/>
<line x1="537.70" y1="408.00" x2="537.70" y2="521.40" stroke="#303030" stroke-width="1"/>
<line x1="287.10" y1="408.50" x2="538.20" y2="408.50" stroke="#303030" stroke-width="1"/>
<line x1="287.10" y1="427.00" x2="538.20" y2="427.00" stroke="#303030" stroke-width="1"/>
<line x1="287.10" y1="464.40" x2="538.20" y2="464.40" stroke="#303030" stroke-width="1"/>
<line x1="287.10" y1="483.40" x2="538.20" y2="483.40" stroke="#303030" stroke-width="1"/>
<line x1="287.10" y1="520.90" x2="538.20" y2="520.90" stroke="#303030" stroke-width="1"/>
<text x="351.95" y="421.15" font-size="9.6" text-anchor="middle" font-weight="normal" fill="#111" stroke="#111" stroke-width="0.1" >pH 6.0</text>
<text x="351.95" y="477.30" font-size="9.6" text-anchor="middle" font-weight="normal" fill="#111" stroke="#111" stroke-width="0.1" >pH 5.83</text>
<text x="393.30" y="421.15" font-size="9.6" text-anchor="middle" font-weight="normal" fill="#111" stroke="#111" stroke-width="0.1" >pH 6.7</text>
<text x="393.30" y="477.30" font-size="9.6" text-anchor="middle" font-weight="normal" fill="#111" stroke="#111" stroke-width="0.1" >pH 6.23</text>
<text x="434.65" y="421.15" font-size="9.6" text-anchor="middle" font-weight="normal" fill="#111" stroke="#111" stroke-width="0.1" >pH 7.4</text>
<text x="434.65" y="477.30" font-size="9.6" text-anchor="middle" font-weight="normal" fill="#111" stroke="#111" stroke-width="0.1" >pH 6.34</text>
<text x="475.95" y="421.15" font-size="9.6" text-anchor="middle" font-weight="normal" fill="#111" stroke="#111" stroke-width="0.1" >pH 8.4</text>
<text x="475.95" y="477.30" font-size="9.6" text-anchor="middle" font-weight="normal" fill="#111" stroke="#111" stroke-width="0.1" >pH 6.66</text>
<text x="517.15" y="421.15" font-size="9.6" text-anchor="middle" font-weight="normal" fill="#111" stroke="#111" stroke-width="0.1" >pH 9.2</text>
<text x="517.15" y="477.30" font-size="9.6" text-anchor="middle" font-weight="normal" fill="#111" stroke="#111" stroke-width="0.1" >pH 6.92</text>
<text x="309.45" y="449.10" font-size="9.6" text-anchor="middle" font-weight="normal" fill="#111" stroke="#111" stroke-width="0.1" >Day 0</text>
<text x="309.45" y="502.60" font-size="9.6" text-anchor="middle" font-weight="normal" fill="#111" stroke="#111" stroke-width="0.1" >Day 5</text>
<g filter="url(#soft)"><circle cx="351.95" cy="445.70" r="17.4" fill="url(#g0)"/><ellipse cx="351.65" cy="448.70" rx="12.3" ry="7.8" fill="#f4f2de"/><path d="M339.55 448.30 A12.4 8 0 0 1 364.15 449.70" fill="none" stroke="#beb68c" stroke-width="1.1" opacity="0.5"/><path d="M343.95 436.20 Q351.95 432.70 359.95 436.20" fill="none" stroke="#fff" stroke-width="2" opacity="0.35"/></g>
<g filter="url(#soft)"><circle cx="351.95" cy="502.45" r="17.4" fill="url(#g10)"/><ellipse cx="351.65" cy="505.45" rx="12.3" ry="7.8" fill="#f5f5ec"/><path d="M339.55 505.05 A12.4 8 0 0 1 364.15 506.45" fill="none" stroke="#b9b9a5" stroke-width="1.1" opacity="0.4"/><path d="M343.95 492.95 Q351.95 489.45 359.95 492.95" fill="none" stroke="#fff" stroke-width="2" opacity="0.35"/></g>
<g filter="url(#soft)"><circle cx="393.30" cy="445.70" r="17.4" fill="url(#g1)"/><ellipse cx="393.00" cy="448.70" rx="12.3" ry="7.8" fill="#f4ecec"/><path d="M380.90 448.30 A12.4 8 0 0 1 405.50 449.70" fill="none" stroke="#bea096" stroke-width="1.1" opacity="0.45"/><path d="M385.30 436.20 Q393.30 432.70 401.30 436.20" fill="none" stroke="#fff" stroke-width="2" opacity="0.35"/></g>
<g filter="url(#soft)"><circle cx="393.30" cy="502.45" r="17.4" fill="url(#g11)"/><ellipse cx="393.00" cy="505.45" rx="12.3" ry="7.8" fill="#f3f2eb"/><path d="M380.90 505.05 A12.4 8 0 0 1 405.50 506.45" fill="none" stroke="#b4b0a0" stroke-width="1.1" opacity="0.4"/><path d="M385.30 492.95 Q393.30 489.45 401.30 492.95" fill="none" stroke="#fff" stroke-width="2" opacity="0.35"/></g>
<g filter="url(#soft)"><circle cx="434.65" cy="445.70" r="17.4" fill="url(#g2)"/><ellipse cx="434.35" cy="448.70" rx="12.3" ry="7.8" fill="#f4e6ea"/><path d="M422.25 448.30 A12.4 8 0 0 1 446.85 449.70" fill="none" stroke="#c87391" stroke-width="1.1" opacity="0.6"/><path d="M426.65 436.20 Q434.65 432.70 442.65 436.20" fill="none" stroke="#fff" stroke-width="2" opacity="0.35"/></g>
<g filter="url(#soft)"><circle cx="434.65" cy="502.45" r="17.4" fill="url(#g12)"/><ellipse cx="434.35" cy="505.45" rx="12.3" ry="7.8" fill="#eeeced"/><path d="M422.25 505.05 A12.4 8 0 0 1 446.85 506.45" fill="none" stroke="#aaa5aa" stroke-width="1.1" opacity="0.4"/><path d="M426.65 492.95 Q434.65 489.45 442.65 492.95" fill="none" stroke="#fff" stroke-width="2" opacity="0.35"/></g>
<g filter="url(#soft)"><circle cx="475.95" cy="445.70" r="17.4" fill="url(#g3)"/><ellipse cx="468.95" cy="454.70" rx="7" ry="5" fill="#e28caf" opacity="0.5"/><ellipse cx="484.95" cy="451.70" rx="4" ry="5" fill="#e28caf" opacity="0.35"/><ellipse cx="475.65" cy="448.70" rx="12.3" ry="7.8" fill="#f7e8f0"/><path d="M463.55 448.30 A12.4 8 0 0 1 488.15 449.70" fill="none" stroke="#c84678" stroke-width="1.1" opacity="0.85"/><path d="M467.95 436.20 Q475.95 432.70 483.95 436.20" fill="none" stroke="#fff" stroke-width="2" opacity="0.35"/></g>
<g filter="url(#soft)"><circle cx="475.95" cy="502.45" r="17.4" fill="url(#g13)"/><ellipse cx="475.65" cy="505.45" rx="12.3" ry="7.8" fill="#f4f0f0"/><path d="M463.55 505.05 A12.4 8 0 0 1 488.15 506.45" fill="none" stroke="#aa8282" stroke-width="1.1" opacity="0.5"/><path d="M467.95 492.95 Q475.95 489.45 483.95 492.95" fill="none" stroke="#fff" stroke-width="2" opacity="0.35"/></g>
<g filter="url(#soft)"><circle cx="517.15" cy="445.70" r="17.4" fill="url(#g4)"/><ellipse cx="510.15" cy="454.70" rx="7" ry="5" fill="#de78a5" opacity="0.5"/><ellipse cx="526.15" cy="451.70" rx="4" ry="5" fill="#de78a5" opacity="0.35"/><ellipse cx="516.85" cy="448.70" rx="12.3" ry="7.8" fill="#f3d4e2"/><path d="M504.75 448.30 A12.4 8 0 0 1 529.35 449.70" fill="none" stroke="#be326e" stroke-width="1.1" opacity="0.9"/><path d="M509.15 436.20 Q517.15 432.70 525.15 436.20" fill="none" stroke="#fff" stroke-width="2" opacity="0.35"/></g>
<g filter="url(#soft)"><circle cx="517.15" cy="502.45" r="17.4" fill="url(#g14)"/><ellipse cx="516.85" cy="505.45" rx="12.3" ry="7.8" fill="#f2edec"/><path d="M504.75 505.05 A12.4 8 0 0 1 529.35 506.45" fill="none" stroke="#af9691" stroke-width="1.1" opacity="0.4"/><path d="M509.15 492.95 Q517.15 489.45 525.15 492.95" fill="none" stroke="#fff" stroke-width="2" opacity="0.35"/></g></svg>
</body></html>
